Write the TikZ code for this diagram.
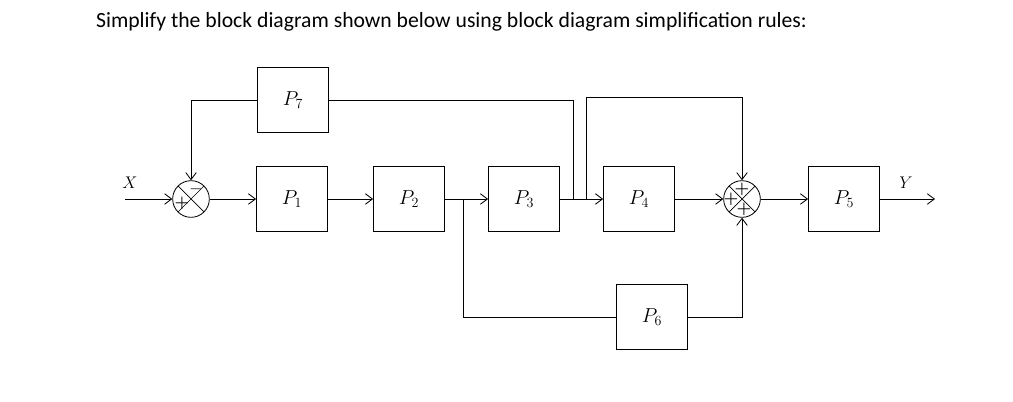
\documentclass[tikz,border=0pt]{standalone}
\usepackage{fontspec}
\newfontfamily\titlefont{Carlito}
\usetikzlibrary{calc,arrows.meta}
\begin{document}
\begin{tikzpicture}[x=0.03cm,y=-0.03cm,
  block/.style={draw,line width=.7pt,minimum width=2.13cm,minimum height=1.95cm,font=\LARGE},
  sum/.style={draw,circle,line width=.7pt,minimum size=1.1cm,inner sep=0pt,
    path picture={\draw[line width=.6pt] (path picture bounding box.north west) -- (path picture bounding box.south east)
      (path picture bounding box.south west) -- (path picture bounding box.north east);}},
  sgn/.style={font=\bfseries\Large,inner sep=0pt},
  arr/.style={-{Straight Barb[length=6pt,width=9pt]},line width=.7pt}]
\useasboundingbox (0,0) rectangle (1013,402);
\node[anchor=west,font=\titlefont\fontsize{18.5}{20}\selectfont] (title) at (92,22) {Simplify the block diagram shown below using block diagram simplification rules:};
% blocks
\node[block] (p7) at (293,100) {$P_7$};
\node[block] (p1) at (292,199) {$P_1$};
\node[block] (p2) at (409,199) {$P_2$};
\node[block] (p3) at (524,199) {$P_3$};
\node[block] (p4) at (639,199) {$P_4$};
\node[block] (p5) at (844,199) {$P_5$};
\node[block] (p6) at (652,317) {$P_6$};
% summing points
\node[sum] (s1) at (191,199) {};
\node[sum] (s2) at (742,199) {};
\node[sgn] at ($(s1)+(-9,4)$) {+};
\node[sgn] at ($(s1)+(5,-10)$) {$-$};
\node[sgn] at ($(s2)+(0,-10)$) {+};
\node[sgn] at ($(s2)+(-11,0)$) {+};
\node[sgn] at ($(s2)+(2,10)$) {+};
% in/out
\coordinate (xin) at (125,199);
\coordinate (yout) at (935,199);
\coordinate (b1) at (463,199);
\coordinate (b2) at (573,199);
\coordinate (b3) at (586,199);
\node[font=\Large] (xl) at (130,183) {$X$};
\node[font=\Large] (yl) at (906,183) {$Y$};
% connectors
\draw[arr] (xin) -- (s1);
\draw[arr] (s1) -- (p1);
\draw[arr] (p1) -- (p2);
\draw[arr] (p2) -- (p3);
\draw[arr] (p3) -- (p4);
\draw[arr] (p4) -- (s2);
\draw[arr] (s2) -- (p5);
\draw[arr] (p5) -- (yout);
\draw[arr] (p7.west) -| (s1.north);
\draw[line width=.7pt] (p7.east) -| (b2);
\draw[arr] (b3) |- (742,97) -- (s2.north);
\draw[line width=.7pt] (b1) |- (p6.west);
\draw[arr] (p6.east) -| (s2.south);
\end{tikzpicture}
\end{document}
